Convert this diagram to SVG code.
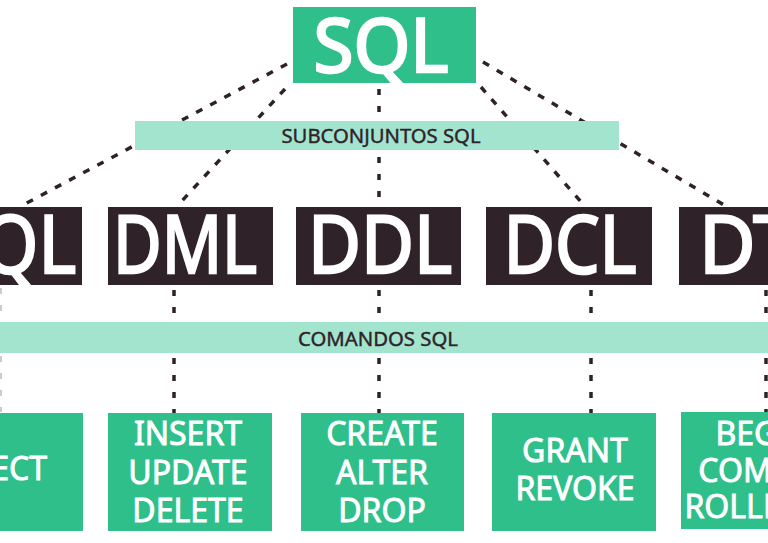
<svg xmlns="http://www.w3.org/2000/svg" width="768" height="543" viewBox="0 0 768 543">
<style>
.dash{stroke:#2e2129;stroke-width:3.5;fill:none;stroke-dasharray:7 9}
.vdash{stroke:#2e2129;stroke-width:3.5;fill:none;stroke-dasharray:6 11}
.green{fill:#2fbf8b}
.dark{fill:#2f2229}
.bar{fill:#a2e4cd}
.big{font-family:"Noto Sans","Open Sans",sans-serif;fill:#fff;stroke:#fff;stroke-width:2.5;text-anchor:middle}
.lbl{font-family:"Noto Sans","Open Sans",sans-serif;fill:#2f2229;stroke:#2f2229;stroke-width:0.4;text-anchor:middle}
.cmd{font-family:"Noto Sans","Open Sans",sans-serif;fill:#fff;stroke:#fff;stroke-width:0.9;text-anchor:middle;font-size:32px}
</style>
<rect width="768" height="543" fill="#fff"/>
<g id="connectors">
<line class="dash" x1="287" y1="64" x2="23" y2="205"/>
<line class="dash" x1="285" y1="89" x2="180" y2="203"/>
<line class="vdash" x1="379" y1="89" x2="379" y2="207"/>
<line class="dash" x1="481" y1="87" x2="582" y2="203"/>
<line class="dash" x1="483" y1="62" x2="724" y2="205"/>
<line x1="1" y1="288" x2="1" y2="412" stroke="#bbb" stroke-width="1.5" stroke-dasharray="6 11"/>
<line class="vdash" x1="174" y1="290" x2="174" y2="413"/>
<line class="vdash" x1="379" y1="290" x2="379" y2="413"/>
<line class="vdash" x1="591" y1="290" x2="591" y2="413"/>
<line class="vdash" x1="766" y1="290" x2="766" y2="413"/>
</g>
<g id="sql">
<rect class="green" x="293" y="7" width="183" height="76"/>
<text class="big" x="381" y="72" font-size="75" textLength="135" lengthAdjust="spacingAndGlyphs">SQL</text>
</g>
<g id="subconjuntos">
<rect class="bar" x="135" y="121" width="484" height="29"/>
<text class="lbl" x="381" y="143" font-size="20" textLength="199" lengthAdjust="spacingAndGlyphs">SUBCONJUNTOS SQL</text>
</g>
<g id="dql">
<rect class="dark" x="-83" y="207" width="165" height="78"/>
<text class="big" x="3" y="273" font-size="80" textLength="146" lengthAdjust="spacingAndGlyphs">DQL</text>
</g>
<g id="dml">
<rect class="dark" x="108" y="207" width="165" height="78"/>
<text class="big" x="185" y="273" font-size="80" textLength="144" lengthAdjust="spacingAndGlyphs">DML</text>
</g>
<g id="ddl">
<rect class="dark" x="296" y="207" width="165" height="78"/>
<text class="big" x="380" y="273" font-size="80" textLength="144" lengthAdjust="spacingAndGlyphs">DDL</text>
</g>
<g id="dcl">
<rect class="dark" x="486" y="207" width="166" height="78"/>
<text class="big" x="570" y="273" font-size="80" textLength="133" lengthAdjust="spacingAndGlyphs">DCL</text>
</g>
<g id="dtl">
<rect class="dark" x="679" y="207" width="166" height="78"/>
<text class="big" x="768" y="273" font-size="80" textLength="138" lengthAdjust="spacingAndGlyphs">DTL</text>
</g>
<g id="comandos">
<rect class="bar" x="0" y="322" width="768" height="31"/>
<text class="lbl" x="378" y="346" font-size="20" textLength="160" lengthAdjust="spacingAndGlyphs">COMANDOS SQL</text>
</g>
<g id="cmd-dql">
<rect class="green" x="-83" y="413" width="166" height="118"/>
<text class="cmd" x="-7" y="480">SELECT</text>
</g>
<g id="cmd-dml">
<rect class="green" x="108" y="413" width="164" height="118"/>
<text class="cmd" x="188" y="445">INSERT</text>
<text class="cmd" x="188" y="484">UPDATE</text>
<text class="cmd" x="188" y="522">DELETE</text>
</g>
<g id="cmd-ddl">
<rect class="green" x="301" y="413" width="163" height="118"/>
<text class="cmd" x="382" y="445">CREATE</text>
<text class="cmd" x="382" y="484">ALTER</text>
<text class="cmd" x="382" y="522">DROP</text>
</g>
<g id="cmd-dcl">
<rect class="green" x="492" y="413" width="164" height="118"/>
<text class="cmd" x="575" y="462">GRANT</text>
<text class="cmd" x="575" y="500">REVOKE</text>
</g>
<g id="cmd-dtl">
<rect class="green" x="681" y="412" width="164" height="117"/>
<text class="cmd" x="764" y="445">BEGIN</text>
<text class="cmd" x="764" y="482">COMMIT</text>
<text class="cmd" x="764" y="518">ROLLBACK</text>
</g>
</svg>
